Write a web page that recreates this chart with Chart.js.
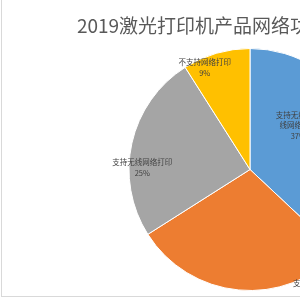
<!DOCTYPE html>
<html>
<head>
<meta charset="utf-8">
<script src="https://cdn.jsdelivr.net/npm/chart.js@4"></script>
<style>
  html, body { margin: 0; padding: 0; background: #fff; overflow: hidden; width: 300px; height: 300px; }
  #frame { position: absolute; left: 1px; top: -20px; width: 600px; height: 317px; border: 1px solid #d9d9d9; box-sizing: border-box; }
  #wrap { position: absolute; left: 0; top: 0; width: 500px; height: 300px; }
</style>
</head>
<body>
<div id="frame"></div>
<div id="wrap"><canvas id="c" width="500" height="300"></canvas></div>
<script>
const titleText = '2019激光打印机产品网络功能的支持情况';
const categories = ['支持无线和有线网络打印', '支持有线网络打印', '支持无线网络打印', '不支持网络打印'];
const labelLines = [['支持无线和有', '线网络打印'], ['支持有线网络打印'], ['支持无线网络打印'], ['不支持网络打印']];
const percents = [37, 29, 25, 9];
const colors = ['#5B9BD5', '#ED7D31', '#A5A5A5', '#FFC000'];

// label placement relative to slice: [angle offset from mid (deg), radius factor]
const labelPlace = [[-19, 0.54], [-37, 1.15], [-11.6, 0.89], [-7.8, 0.92]];

const labelPlugin = {
  id: 'sliceLabels',
  afterDatasetsDraw(chart) {
    const ctx = chart.ctx;
    const meta = chart.getDatasetMeta(0);
    ctx.save();
    ctx.font = '7.5px "Noto Sans CJK SC", sans-serif';
    ctx.fillStyle = '#404040';
    ctx.textAlign = 'center';
    ctx.textBaseline = 'middle';
    meta.data.forEach((arc, i) => {
      const p = arc.getProps(['x', 'y', 'startAngle', 'endAngle', 'outerRadius'], true);
      const mid = (p.startAngle + p.endAngle) / 2 + labelPlace[i][0] * Math.PI / 180;
      const r = p.outerRadius * labelPlace[i][1];
      const cx = p.x + Math.cos(mid) * r;
      const cy = p.y + Math.sin(mid) * r;
      const lines = labelLines[i].concat([percents[i] + '%']);
      const lh = 10.5;
      const y0 = cy - (lines.length - 1) * lh / 2;
      lines.forEach((t, k) => ctx.fillText(t, cx, y0 + k * lh));
    });
    ctx.restore();
  }
};

new Chart(document.getElementById('c'), {
  type: 'pie',
  data: {
    labels: categories,
    datasets: [{
      data: percents,
      backgroundColor: colors,
      borderColor: '#ffffff',
      borderWidth: 1
    }]
  },
  options: {
    responsive: false,
    animation: false,
    layout: { padding: { top: 0, bottom: 9, left: 0, right: 0 } },
    plugins: {
      legend: { display: false },
      tooltip: { enabled: false },
      title: {
        display: true,
        text: titleText,
        color: '#595959',
        font: { family: '"Noto Sans CJK SC", sans-serif', size: 19, weight: 'normal' },
        padding: { top: 14, bottom: 11.2 }
      }
    }
  },
  plugins: [labelPlugin]
});
</script>
</body>
</html>
